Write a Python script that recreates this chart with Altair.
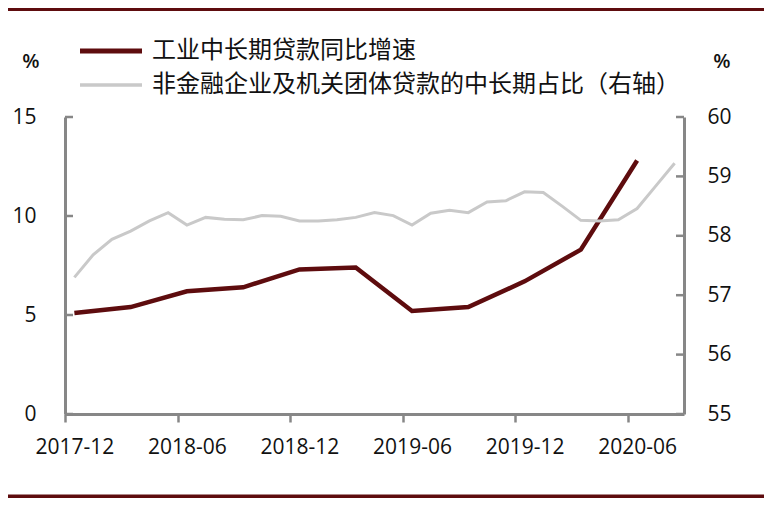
import altair as alt
import pandas as pd

# ---------------- data ----------------
months = [
    "2017-12", "2018-01", "2018-02", "2018-03", "2018-04", "2018-05", "2018-06",
    "2018-07", "2018-08", "2018-09", "2018-10", "2018-11", "2018-12",
    "2019-01", "2019-02", "2019-03", "2019-04", "2019-05", "2019-06",
    "2019-07", "2019-08", "2019-09", "2019-10", "2019-11", "2019-12",
    "2020-01", "2020-02", "2020-03", "2020-04", "2020-05", "2020-06",
    "2020-07", "2020-08",
]
# 非金融企业及机关团体贷款的中长期占比 (right axis, %)
share = [57.30, 57.68, 57.94, 58.08, 58.25, 58.39, 58.18, 58.31, 58.28, 58.27, 58.34,
         58.33, 58.25, 58.25, 58.27, 58.31, 58.39, 58.34, 58.18, 58.38, 58.43, 58.39,
         58.57, 58.59, 58.74, 58.73, 58.50, 58.26, 58.25, 58.27, 58.46, 58.84, 59.22]

quarters = ["2017-12", "2018-03", "2018-06", "2018-09", "2018-12", "2019-03",
            "2019-06", "2019-09", "2019-12", "2020-03", "2020-06"]
# 工业中长期贷款同比增速 (left axis, %)
growth = [5.1, 5.4, 6.2, 6.4, 7.3, 7.4, 5.2, 5.4, 6.7, 8.3, 12.8]

series_names = ["工业中长期贷款同比增速", "非金融企业及机关团体贷款的中长期占比（右轴）"]
x_tick_months = [0, 6, 12, 18, 24, 30]
left_ticks = [0, 5, 10, 15]
right_ticks = [55, 56, 57, 58, 59, 60]
unit_label = "%"

# ---------------- style ----------------
RED = "#5e0c0e"
LIGHT = "#c9c9c9"
AXIS = "#878787"
TXT = "#111111"
NUM_FONT = "Open Sans"
CJK_FONT = "Noto Sans CJK SC"
W, H = 619, 297
N = len(months)
half_band = W / N / 2

gray_df = pd.DataFrame({"month": months, "pos": [i + 0.5 for i in range(N)], "share": share})
red_df = pd.DataFrame({"month": quarters,
                       "pos": [months.index(q) + 0.5 for q in quarters],
                       "growth": growth})

label_expr = "[" + ",".join(repr(m) for m in months) + "][datum.value]"

x_scale = alt.Scale(domain=[0, N], nice=False, zero=False)


def x_axis():
    return alt.Axis(values=x_tick_months, labelExpr=label_expr, labelOffset=half_band,
                    labelFlush=False, tickSize=8, tickWidth=2.5, tickColor=AXIS,
                    domainColor=AXIS, domainWidth=3, labelFont=NUM_FONT, labelFontSize=21,
                    labelColor=TXT, labelPadding=14, grid=False, title=None, labelAngle=0)


left_scale = alt.Scale(domain=[0, 15], nice=False, zero=False)
right_scale = alt.Scale(domain=[55, 60], nice=False, zero=False)

red_line = alt.Chart(red_df).mark_line(color=RED, strokeWidth=4.5).encode(
    x=alt.X("pos:Q", scale=x_scale, axis=x_axis()),
    y=alt.Y("growth:Q", scale=left_scale,
            axis=alt.Axis(values=left_ticks, ticks=False, domainColor=AXIS, domainWidth=3,
                          labelPadding=29, labelFont=NUM_FONT, labelFontSize=21,
                          labelColor=TXT, grid=False, title=None, format="d")),
)
left_tick_marks = alt.Chart(pd.DataFrame({"lt": left_ticks})).mark_rule(
    color=AXIS, strokeWidth=2.5).encode(
    x=alt.value(0), x2=alt.value(8),
    y=alt.Y("lt:Q", scale=left_scale, axis=None),
)

gray_line = alt.Chart(gray_df).mark_line(color=LIGHT, strokeWidth=3).encode(
    x=alt.X("pos:Q", scale=x_scale, axis=x_axis()),
    y=alt.Y("share:Q", scale=right_scale,
            axis=alt.Axis(orient="right", values=right_ticks, ticks=False, domainColor=AXIS,
                          domainWidth=3, labelPadding=23, labelFont=NUM_FONT,
                          labelFontSize=21, labelColor=TXT, grid=False, title=None,
                          format="d")),
)
right_tick_marks = alt.Chart(pd.DataFrame({"rt": right_ticks})).mark_rule(
    color=AXIS, strokeWidth=2.5).encode(
    x=alt.value(W - 8), x2=alt.value(W),
    y=alt.Y("rt:Q", scale=right_scale, axis=None),
)

one = pd.DataFrame({"k": [0]})

# legend
leg_red = alt.Chart(one).mark_rule(color=RED, strokeWidth=5).encode(
    x=alt.value(15), x2=alt.value(77), y=alt.value(-66))
leg_gray = alt.Chart(one).mark_rule(color=LIGHT, strokeWidth=3.5).encode(
    x=alt.value(15), x2=alt.value(77), y=alt.value(-32))
leg_t1 = alt.Chart(pd.DataFrame({"name": [series_names[0]]})).mark_text(
    align="left", baseline="middle", font=CJK_FONT, fontSize=24, color=TXT).encode(
    text="name:N", x=alt.value(87), y=alt.value(-66))
leg_t2 = alt.Chart(pd.DataFrame({"name": [series_names[1]]})).mark_text(
    align="left", baseline="middle", font=CJK_FONT, fontSize=24, color=TXT).encode(
    text="name:N", x=alt.value(87), y=alt.value(-32))

unit_df = pd.DataFrame({"u": [unit_label]})
pct_left = alt.Chart(unit_df).mark_text(
    align="center", baseline="middle", font=NUM_FONT, fontSize=20, fontWeight=600,
    color=TXT).encode(text="u:N", x=alt.value(-34), y=alt.value(-55))
pct_right = alt.Chart(unit_df).mark_text(
    align="center", baseline="middle", font=NUM_FONT, fontSize=20, fontWeight=600,
    color=TXT).encode(text="u:N", x=alt.value(657), y=alt.value(-55))

# decorative frame lines
top_rule = alt.Chart(one).mark_rule(color=RED, strokeWidth=3).encode(
    x=alt.value(-57), x2=alt.value(699), y=alt.value(-107.5))
bottom_rule = alt.Chart(one).mark_rule(color=RED, strokeWidth=4).encode(
    x=alt.value(-57), x2=alt.value(699), y=alt.value(379.5))

chart = alt.layer(
    red_line, left_tick_marks, gray_line, right_tick_marks,
    leg_red, leg_gray, leg_t1, leg_t2, pct_left, pct_right, top_rule, bottom_rule,
).resolve_scale(y="independent").properties(
    width=W, height=H,
    autosize=alt.AutoSizeParams(type="none"),
    padding={"left": 57, "top": 109, "right": 80, "bottom": 84},
    background="white",
).configure_view(stroke=None)

chart.save("out.html", embed_options={"renderer": "svg", "actions": False})
